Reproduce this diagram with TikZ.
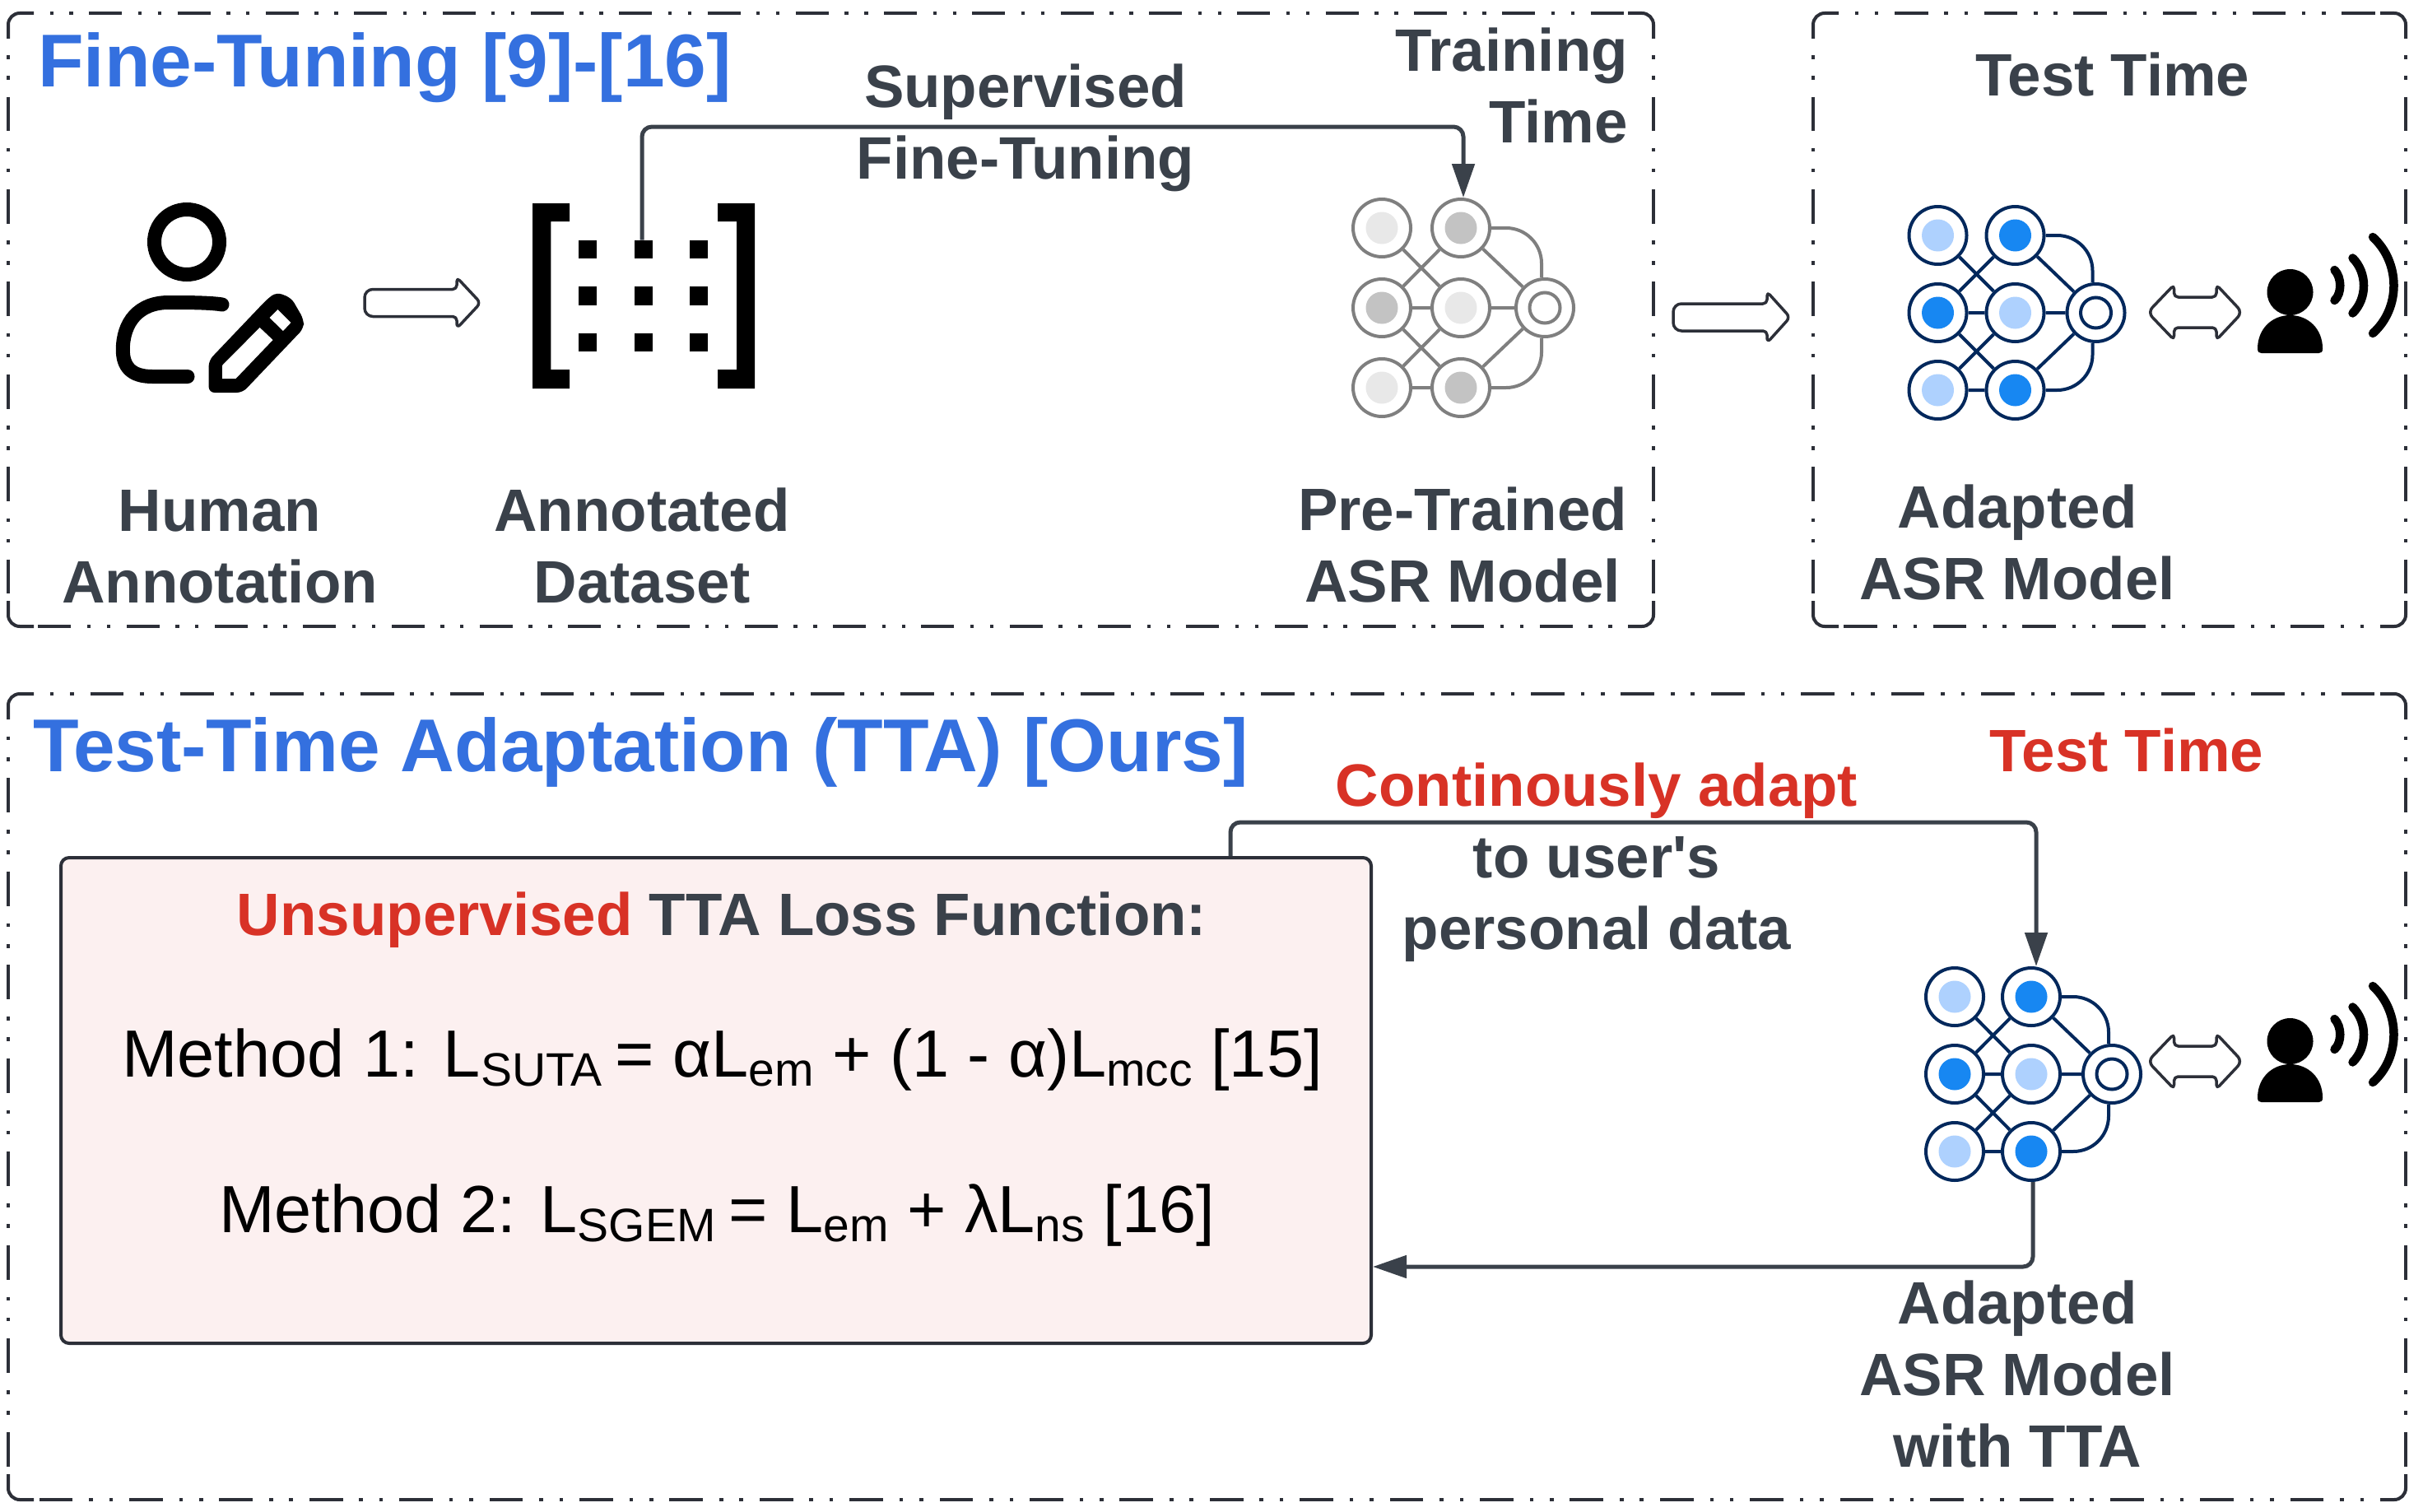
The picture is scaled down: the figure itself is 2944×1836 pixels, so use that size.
\documentclass[tikz,border=0pt]{standalone}
\usepackage{fontspec}
\setmainfont{Liberation Sans}[Ligatures=TeXOff]
\usetikzlibrary{arrows.meta,calc}
\definecolor{ink}{HTML}{3A414A}
\definecolor{frame}{HTML}{2C2F38}
\definecolor{titleblue}{HTML}{3470DF}
\definecolor{alert}{HTML}{D83226}
\definecolor{pinkfill}{HTML}{FCF0F0}
\definecolor{grayline}{HTML}{7F7F7F}
\definecolor{graylight}{HTML}{E8E8E8}
\definecolor{graydark}{HTML}{C3C3C3}
\definecolor{navy}{HTML}{02285C}
\definecolor{bluelight}{HTML}{AED1FE}
\definecolor{bluedark}{HTML}{1787F2}
\newcommand{\lowtext}[1]{\raisebox{-11pt}{\fontsize{57}{60}\selectfont #1}}
% one side of a region: dots and dashes evenly fitted between the corner pieces
\newcommand{\regionside}[4]{%
  \pgfmathsetmacro{\fLen}{abs(#3-#1)+abs(#4-#2)}%
  \pgfmathsetmacro{\fCnt}{round((\fLen-69)/110)}%
  \pgfmathsetmacro{\fSc}{\fLen/(\fCnt*110+69)}%
  \pgfmathsetmacro{\fGap}{20*\fSc}%
  \pgfmathsetmacro{\fDot}{4.5*\fSc}%
  \pgfmathsetmacro{\fDash}{41*\fSc}%
  \draw[region,dash pattern=on 0pt off \fGap pt on \fDot pt off \fGap pt on \fDot pt off \fGap pt on \fDash pt off 0pt] (#1,#2) -- (#3,#4);%
}
\newcommand{\regionframe}[4]{%
  \draw[region,rounded corners=14pt] ({#1},{#2+31}) -- (#1,#2) -- ({#1+31},#2);
  \draw[region,rounded corners=14pt] ({#3-31},#2) -- (#3,#2) -- (#3,{#2+31});
  \draw[region,rounded corners=14pt] (#3,{#4-31}) -- (#3,#4) -- ({#3-31},#4);
  \draw[region,rounded corners=14pt] ({#1+31},#4) -- (#1,#4) -- (#1,{#4-31});
  \regionside{#1+31}{#2}{#3-31}{#2}
  \regionside{#3}{#2+31}{#3}{#4-31}
  \regionside{#3-31}{#4}{#1+31}{#4}
  \regionside{#1}{#2+31}{#1}{#4-31}
}
\tikzset{
  x=1pt,y=-1pt,
  every node/.style={inner sep=0pt},
  region/.style={draw=frame,line width=4pt},
  txt/.style={font=\fontsize{72.7}{87}\selectfont\bfseries,text=ink,align=center,anchor=base},
  head/.style={font=\fontsize{91}{100}\selectfont\bfseries,text=titleblue,anchor=base west},
  formula/.style={font=\fontsize{81.1}{90}\selectfont,text=black,anchor=base},
  conn/.style={draw=ink,line width=5pt,rounded corners=12pt,
    -{Triangle[length=41pt,width=27pt]}},
  hollow/.style={draw=frame,line width=3.5pt,fill=white,line join=round},
  mdot/.style={fill=black,minimum width=22pt,minimum height=22.5pt},
  wave/.style={draw=black,line width=10.5pt,line cap=round},
  pics/net/.style n args={6}{code={
    \tikzset{nn/.style={circle,draw=#1,line width=4pt,fill=white,minimum size=70pt}}
    \node[nn] (a) at (0,-#6) {};
    \node[nn] (b) at (#4,-#6) {};
    \node[nn] (c) at (0,0) {};
    \node[nn] (d) at (#4,0) {};
    \node[nn] (e) at (0,#6) {};
    \node[nn] (f) at (#4,#6) {};
    \node[nn] (o) at ({#4+#5},0) {};
    \fill[#2] (a.center) circle (19.5pt) (d.center) circle (19.5pt) (e.center) circle (19.5pt);
    \fill[#3] (b.center) circle (19.5pt) (c.center) circle (19.5pt) (f.center) circle (19.5pt);
    \draw[#1,line width=4pt] (o.center) circle (18.5pt);
    \draw[#1,line width=4pt] (a)--(d) (b)--(c) (c)--(d) (c)--(f) (e)--(d) (e)--(f) (b)--(o) (d)--(o) (f)--(o);
    \draw[#1,line width=4pt,rounded corners=43pt] (b.east) -| ([xshift=-4pt]o.north);
    \draw[#1,line width=4pt,rounded corners=43pt] (f.east) -| ([xshift=-4pt]o.south);
  }},
  pics/blockarrow/.style n args={2}{code={
    % #1 total length, #2 distance of the head's back from the tail
    \draw[hollow,rounded corners=10pt]
      (0,-16.5) [rounded corners=5pt] -- (#2,-16.5) -- (#2,-31) [rounded corners=6pt] -- (#1,0)
      -- (#2,31) [rounded corners=5pt] -- (#2,16.5) [rounded corners=10pt] -- (0,16.5) -- cycle;
  }},
  pics/user/.style={code={
    \draw[hollow,rounded corners=5pt] (-141,-18.5) -- (-141,-33.5) [rounded corners=8pt] -- (-173,0)
      [rounded corners=5pt] -- (-141,33.5) -- (-141,18.5) -- (-89.5,18.5) -- (-89.5,33.5)
      [rounded corners=8pt] -- (-58,0)
      [rounded corners=5pt] -- (-89.5,-33.5) -- (-89.5,-18.5) -- cycle;
    \fill[black] (0,-24.5) circle (28pt);
    \fill[black] (-39.5,44) .. controls (-39.5,20) and (-22,3.5) .. (0,3.5)
      .. controls (22,3.5) and (39.5,20) .. (39.5,44)
      .. controls (39.5,48) and (38,49.5) .. (35,49.5) -- (-35,49.5)
      .. controls (-38,49.5) and (-39.5,48) .. (-39.5,44) -- cycle;
    \draw[wave] (54,-51.5) .. controls (63,-42) and (63,-23) .. (54,-14.5);
    \draw[wave] (76,-66) .. controls (94,-48) and (94,-17) .. (76,1);
    \draw[wave] (100.5,-91.5) .. controls (134.5,-60) and (134.5,-5) .. (100.5,25.5);
  }},
}
\begin{document}
\begin{tikzpicture}
\useasboundingbox (0,0) rectangle (2944,1836);
% regions
\regionframe{10}{16}{2009}{761}
\regionframe{2203}{16}{2923}{761}
\regionframe{10}{843}{2923}{1822}
% titles and labels, upper part
\node[head] (t1) at (46,105) {Fine-Tuning [9]-[16]};
\node[txt,align=right,anchor=base east] (t2) at (1978,173) {Training\\Time};
\node[txt] (t3) at (1246,217) {Supervised\\Fine-Tuning};
\node[txt] (t4) at (2567,116) {Test Time};
\node[txt] (t5) at (267,732) {Human\\Annotation};
\node[txt] (t6) at (780,732) {Annotated\\Dataset};
\node[txt] (t7) at (1777,731) {Pre-Trained\\ASR Model};
\node[txt] (t8) at (2451,728) {Adapted\\ASR Model};
% annotator icon
\draw[black,line width=17pt] (227,294) circle (39.5pt);
\draw[black,line width=17pt,line cap=round]
  (270,370) .. controls (255,367.5) and (225,367.5) .. (205,367.5)
  .. controls (168,367.5) and (149.3,392) .. (149.3,425)
  .. controls (149.3,446) and (160,457.5) .. (185,457.5) -- (228,457.5);
\fill[black,rounded corners=7pt] (253.6,438) -- (325,363) -- (336,355) -- (354,362) -- (369,388)
  -- (369,399) -- (294.7,477) -- (253.6,477) -- cycle;
\fill[white] (270,444) -- (270,460) -- (286.5,460) -- (331.5,413) -- (315.6,398) -- cycle;
\fill[white] (327.6,386) -- (337.5,376) -- (353.4,392) -- (344,402) -- cycle;
\pic at (443,368) {blockarrow={141}{112}};
% annotated dataset icon
\fill[black] (647,247) -- (692,247) -- (692,269) -- (669.4,269) -- (669.4,449) -- (692,449)
  -- (692,472) -- (647,472) -- cycle;
\fill[black] (917,247) -- (872,247) -- (872,269) -- (895,269) -- (895,449) -- (872,449)
  -- (872,472) -- (917,472) -- cycle;
\foreach \col/\cx in {1/714,2/782,3/849}
  \foreach \row/\cy in {1/303,2/359.5,3/416}
    \node[mdot] (m\row\col) at (\cx,\cy) {};
% networks
\pic (n1) at (1679,374) {net={grayline}{graylight}{graydark}{96}{102}{97}};
\pic at (2033,385.5) {blockarrow={142}{114}};
\pic (n2) at (2354.5,380) {net={navy}{bluelight}{bluedark}{94}{98}{94}};
\pic at (2782.5,379.5) {user};
\pic (n3) at (2375,1305) {net={navy}{bluelight}{bluedark}{93}{98}{94}};
\pic at (2782.5,1289.5) {user};
\draw[conn] ([xshift=-2pt]m12.north) |- (1778,154) -- ([xshift=3pt]n1b.north);
% lower part
\node[head] (t9) at (40,937) {Test-Time Adaptation (TTA) [Ours]};
\node[draw=frame,line width=4pt,fill=pinkfill,rounded corners=10pt,minimum width=1592pt,minimum height=590pt] (pink) at (870,1337) {};
\node[txt] (t10) at (1940,1153) {\textcolor{alert}{Continously adapt}\\to user's\\personal data};
\node[txt,text=alert] (t11) at (2584,937) {Test Time};
\node[txt] (t12) at (877,1136) {\textcolor{alert}{Unsupervised} TTA Loss Function:};
\node[formula] (f1) at (877.5,1308) {Method 1: L\lowtext{SUTA }= αL\lowtext{em} + (1 - α)L\lowtext{mcc} [15]};
\node[formula] (f2) at (871,1497) {Method 2: L\lowtext{SGEM }= L\lowtext{em} + λL\lowtext{ns} [16]};
\node[txt] (t13) at (2451,1782) {Adapted\\ASR Model\\with TTA};
\coordinate (c1) at (1495,1040);
\coordinate (c2) at (2474,999);
\coordinate (c3) at (2470,1539);
\draw[conn] (c1) |- (c2) -- ([xshift=6pt]n3b.north);
\draw[conn] ([xshift=2pt]n3f.south) -- (c3) -- (c3 -| pink.east);
\end{tikzpicture}
\end{document}
